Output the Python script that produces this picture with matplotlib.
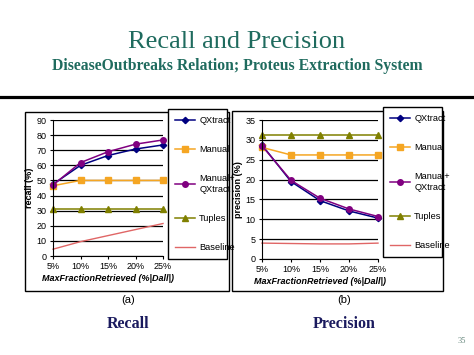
import matplotlib.pyplot as plt
from matplotlib.patches import Rectangle
from matplotlib.lines import Line2D

# Data
fractions = ['5%', '10%', '15%', '20%', '25%']

recall_qxtract = [47.5, 60, 66.5, 70.8, 73.5]
recall_manual = [46.5, 50, 50, 50, 50]
recall_both = [47, 61.8, 69, 74, 76.8]
recall_tuples = [31, 31, 31, 31, 31]
recall_baseline = [4.5, 9.5, 13.5, 17.5, 21.5]

prec_qxtract = [28.7, 19.5, 14.7, 12.1, 10.3]
prec_manual = [28.1, 26.2, 26.2, 26.2, 26.2]
prec_both = [28.5, 19.8, 15.3, 12.6, 10.7]
prec_tuples = [31.2, 31.2, 31.2, 31.2, 31.2]
prec_baseline = [4.0, 3.9, 3.8, 3.8, 4.0]

W, H = 474, 355
fig = plt.figure(figsize=(W / 100, H / 100), dpi=100)
plt.rcParams['font.family'] = 'Liberation Sans'


def fr(x0, y0, x1, y1):
    # pixel box (top-left origin) -> figure fraction rect
    return [x0 / W, 1 - y1 / H, (x1 - x0) / W, (y1 - y0) / H]


teal = '#1f6b5e'
navy_txt = '#1a1a5e'
fig.text(0.5, 1 - 42 / H, 'Recall and Precision', ha='center', va='center',
         family='Liberation Serif', fontsize=19, color=teal)
fig.text(0.5, 1 - 66 / H, 'DiseaseOutbreaks Relation; Proteus Extraction System',
         ha='center', va='center', family='Liberation Serif', fontsize=11.3,
         fontweight='bold', color=teal)
fig.add_artist(Line2D([0, 1], [1 - 97 / H, 1 - 97 / H], color='black', lw=2.3,
                      transform=fig.transFigure))

colors = {'QXtract': '#000080', 'Manual': '#f5a623', 'Manual+\nQXtract': '#800080',
          'Tuples': '#808000', 'Baseline': '#e06666'}
markers = {'QXtract': 'D', 'Manual': 's', 'Manual+\nQXtract': 'o',
           'Tuples': '^', 'Baseline': None}
msizes = {'QXtract': 3.2, 'Manual': 4, 'Manual+\nQXtract': 4, 'Tuples': 4.5, 'Baseline': 0}


def panel(axbox, framebox, legbox, series, ymax, ystep, ylabel, letter, caption, capx):
    ax = fig.add_axes(fr(*axbox))
    x = range(len(fractions))
    for name, vals in series:
        ax.plot(x, vals, color=colors[name], marker=markers[name], ms=msizes[name],
                lw=1.1 if name != 'Baseline' else 1.0, label=name, clip_on=False)
    ax.set_xlim(0, len(fractions) - 1)
    ax.set_ylim(0, ymax)
    ax.set_xticks(list(x))
    ax.set_xticklabels(fractions)
    ax.set_yticks(range(0, ymax + 1, ystep))
    ax.yaxis.grid(True, color='black', lw=0.9)
    ax.set_axisbelow(True)
    for s in ('top', 'right'):
        ax.spines[s].set_visible(False)
    ax.tick_params(labelsize=6.5, length=2.5, width=0.8, pad=2)
    ax.set_ylabel(ylabel, fontsize=6.5, fontweight='bold', labelpad=2)
    ax.set_xlabel('MaxFractionRetrieved (%|Dall|)', fontsize=6.5,
                  fontweight='bold', style='italic', labelpad=2)
    fig.add_artist(Rectangle((framebox[0] / W, 1 - framebox[3] / H),
                             (framebox[2] - framebox[0]) / W,
                             (framebox[3] - framebox[1]) / H,
                             transform=fig.transFigure, fill=False,
                             edgecolor='black', lw=1.0))
    lx0, ly0, lx1, ly1 = legbox
    leg = fig.legend(handles=ax.get_lines(), loc='upper left',
                     bbox_to_anchor=(lx0 / W, 1 - ly0 / H, (lx1 - lx0) / W, 0.01),
                     mode='expand', fontsize=6.7, frameon=True, fancybox=False,
                     edgecolor='black', framealpha=1, borderpad=0.75,
                     labelspacing=2.15, handlelength=2.2, handletextpad=0.4,
                     borderaxespad=0)
    leg.get_frame().set_linewidth(1.0)
    fig.text(capx / W, 1 - 300 / H, letter, ha='center', va='center', fontsize=8)
    fig.text(capx / W, 1 - 324 / H, caption, ha='center', va='center',
             family='Liberation Serif', fontsize=11.5, fontweight='bold', color=navy_txt)


panel((53, 120, 163, 256), (25, 112, 229, 291), (168, 113, 227, 257),
      [('QXtract', recall_qxtract), ('Manual', recall_manual),
       ('Manual+\nQXtract', recall_both), ('Tuples', recall_tuples),
       ('Baseline', recall_baseline)],
      90, 10, 'recall (%)', '(a)', 'Recall', 128)

panel((262, 120, 378, 259), (232, 111, 443, 291), (383, 111, 442, 259),
      [('QXtract', prec_qxtract), ('Manual', prec_manual),
       ('Manual+\nQXtract', prec_both), ('Tuples', prec_tuples),
       ('Baseline', prec_baseline)],
      35, 5, 'precision (%)', '(b)', 'Precision', 344)

fig.text(462 / W, 1 - 341 / H, '35', ha='center', va='center',
         family='Liberation Serif', fontsize=6, color='#6a8a80')

fig.savefig('out.png', dpi=100)
